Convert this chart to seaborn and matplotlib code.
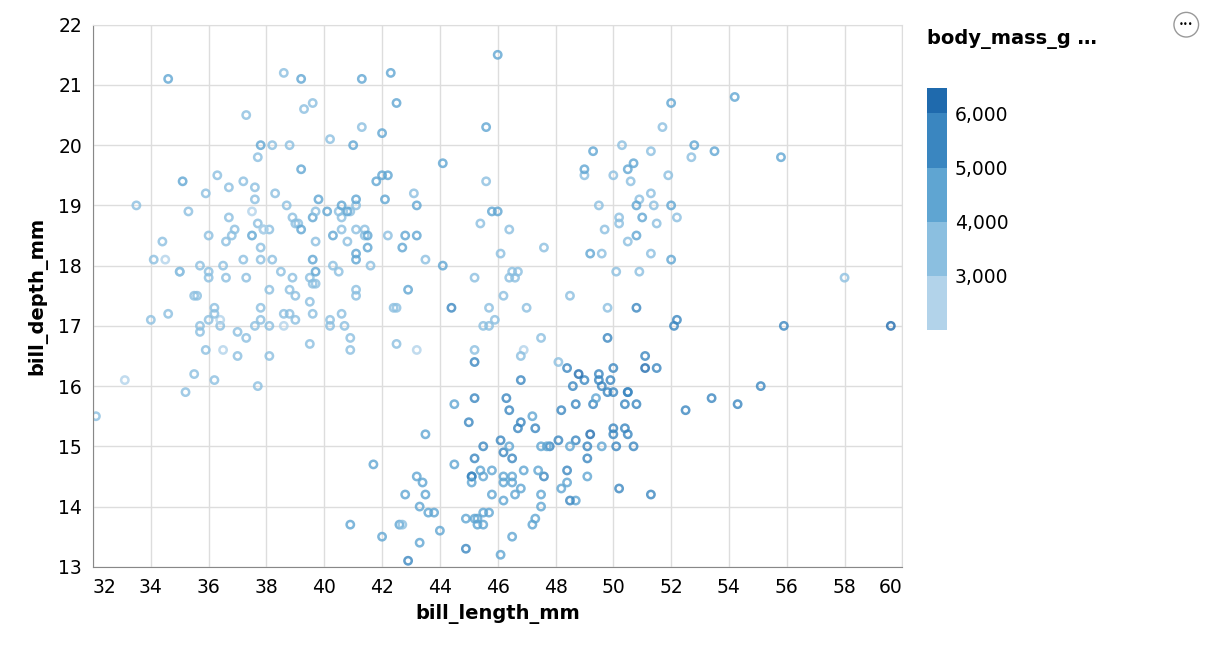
import numpy as np
import pandas as pd
import matplotlib
matplotlib.use("Agg")
import matplotlib.pyplot as plt
from matplotlib.colors import ListedColormap, BoundaryNorm
import seaborn as sns

adelie = [
(39.1,18.7,3750),(39.5,17.4,3800),(40.3,18,3250),(36.7,19.3,3450),(39.3,20.6,3650),(38.9,17.8,3625),
(39.2,19.6,4675),(34.1,18.1,3475),(42,20.2,4250),(37.8,17.1,3300),(37.8,17.3,3700),(41.1,17.6,3200),
(38.6,21.2,3800),(34.6,21.1,4400),(36.6,17.8,3700),(38.7,19,3450),(42.5,20.7,4500),(34.4,18.4,3325),
(46,21.5,4200),(37.8,18.3,3400),(37.7,18.7,3600),(35.9,19.2,3800),(38.2,18.1,3950),(38.8,17.2,3800),
(35.3,18.9,3800),(40.6,18.6,3550),(40.5,17.9,3200),(37.9,18.6,3150),(40.5,18.9,3950),(39.5,16.7,3250),
(37.2,18.1,3900),(39.5,17.8,3300),(40.9,18.9,3900),(36.4,17,3325),(39.2,21.1,4150),(38.8,20,3950),
(42.2,18.5,3550),(37.6,19.3,3300),(39.8,19.1,4650),(36.5,18,3150),(40.8,18.4,3900),(36,18.5,3100),
(44.1,19.7,4400),(37,16.9,3000),(39.6,18.8,4600),(41.1,19,3425),(37.5,18.9,2975),(36,17.9,3450),
(42.3,21.2,4150),(39.6,17.7,3500),(40.1,18.9,4300),(35,17.9,3450),(42,19.5,4050),(34.5,18.1,2900),
(41.4,18.6,3700),(39,17.5,3550),(40.6,18.8,3800),(36.5,16.6,2850),(37.6,19.1,3750),(35.7,16.9,3150),
(41.3,21.1,4400),(37.6,17,3600),(41.1,18.2,4050),(36.4,17.1,2850),(41.6,18,3950),(35.5,16.2,3350),
(41.1,19.1,4100),(35.9,16.6,3050),(41.8,19.4,4450),(33.5,19,3600),(39.7,18.4,3900),(39.6,17.2,3550),
(45.8,18.9,4150),(35.5,17.5,3700),(42.8,18.5,4250),(40.9,16.8,3700),(37.2,19.4,3900),(36.2,16.1,3550),
(42.1,19.1,4000),(34.6,17.2,3200),(42.9,17.6,4700),(36.7,18.8,3800),(35.1,19.4,4200),(37.3,17.8,3350),
(41.3,20.3,3550),(36.3,19.5,3800),(36.9,18.6,3500),(38.3,19.2,3950),(38.9,18.8,3600),(35.7,18,3550),
(41.1,18.1,4300),(34,17.1,3400),(39.6,18.1,4450),(36.2,17.3,3300),(40.8,18.9,4300),(38.1,18.6,3700),
(40.3,18.5,4350),(33.1,16.1,2900),(43.2,18.5,4100),(35,17.9,3725),(41,20,4725),(37.7,16,3075),
(37.8,20,4250),(37.9,18.6,2925),(39.7,18.9,3550),(38.6,17.2,3750),(38.2,20,3900),(38.1,17,3175),
(43.2,19,4775),(38.1,16.5,3825),(45.6,20.3,4600),(39.7,17.7,3200),(42.2,19.5,4275),(39.6,20.7,3900),
(42.7,18.3,4075),(38.6,17,2900),(37.3,20.5,3775),(35.7,17,3350),(41.1,18.6,3325),(36.2,17.2,3150),
(37.7,19.8,3500),(40.2,17,3450),(41.4,18.5,3875),(35.2,15.9,3050),(40.6,19,4000),(38.8,17.6,3275),
(41.5,18.3,4300),(39,17.1,3050),(44.1,18,4000),(38.5,17.9,3325),(43.1,19.2,3500),(36.8,18.5,3500),
(37.5,18.5,4475),(38.1,17.6,3425),(41.1,17.5,3900),(35.6,17.5,3175),(40.2,20.1,3975),(37,16.5,3400),
(39.7,17.9,4250),(40.2,17.1,3400),(40.6,17.2,3475),(32.1,15.5,3050),(40.7,17,3725),(37.3,16.8,3000),
(39,18.7,3650),(39.2,18.6,4250),(36.6,18.4,3475),(36,17.8,3450),(37.8,18.1,3750),(36,17.1,3700),
(41.5,18.5,4000)]
chinstrap = [
(46.5,17.9,3500),(50,19.5,3900),(51.3,19.2,3650),(45.4,18.7,3525),(52.7,19.8,3725),(45.2,17.8,3950),
(46.1,18.2,3250),(51.3,18.2,3750),(46,18.9,4150),(51.3,19.9,3700),(46.6,17.8,3800),(51.7,20.3,3775),
(47,17.3,3700),(52,18.1,4050),(45.9,17.1,3575),(50.5,19.6,4050),(50.3,20,3300),(58,17.8,3700),
(46.4,18.6,3450),(49.2,18.2,4400),(42.4,17.3,3600),(48.5,17.5,3400),(43.2,16.6,2900),(50.6,19.4,3800),
(46.7,17.9,3300),(52,19,4150),(50.5,18.4,3400),(49.5,19,3800),(46.4,17.8,3700),(52.8,20,4550),
(40.9,16.6,3200),(54.2,20.8,4300),(42.5,16.7,3350),(51,18.8,4100),(49.7,18.6,3600),(47.5,16.8,3900),
(47.6,18.3,3850),(52,20.7,4800),(46.9,16.6,2700),(53.5,19.9,4500),(49,19.5,3950),(46.2,17.5,3650),
(50.9,19.1,3550),(45.5,17,3500),(50.9,17.9,3675),(50.8,18.5,4450),(50.1,17.9,3400),(49,19.6,4300),
(51.5,18.7,3250),(49.8,17.3,3675),(48.1,16.4,3325),(51.4,19,3950),(45.7,17.3,3600),(50.7,19.7,4050),
(42.5,17.3,3350),(52.2,18.8,3450),(45.2,16.6,3250),(49.3,19.9,4050),(50.2,18.8,3800),(45.6,19.4,3525),
(51.9,19.5,3950),(46.8,16.5,3650),(45.7,17,3650),(55.8,19.8,4000),(43.5,18.1,3400),(49.6,18.2,3775),
(50.8,19,4100),(50.2,18.7,3775)]
gentoo = [
(46.1,13.2,4500),(50,16.3,5700),(48.7,14.1,4450),(50,15.2,5700),(47.6,14.5,5400),(46.5,13.5,4550),
(45.4,14.6,4800),(46.7,15.3,5200),(43.3,13.4,4400),(46.8,15.4,5150),(40.9,13.7,4650),(49,16.1,5550),
(45.5,13.7,4650),(48.4,14.6,5850),(45.8,14.6,4200),(49.3,15.7,5850),(42,13.5,4150),(49.2,15.2,6300),
(46.2,14.5,4800),(48.7,15.1,5350),(50.2,14.3,5700),(45.1,14.5,5000),(46.5,14.5,4400),(46.3,15.8,5050),
(42.9,13.1,5000),(46.1,15.1,5100),(47.8,15,5650),(48.2,14.3,4600),(50,15.3,5550),(47.3,15.3,5250),
(42.8,14.2,4700),(45.1,14.5,5050),(59.6,17,6050),(49.1,14.8,5150),(48.4,16.3,5400),(42.6,13.7,4950),
(44.4,17.3,5250),(44,13.6,4350),(48.7,15.7,5350),(42.7,13.7,3950),(49.6,16,5700),(45.3,13.7,4300),
(49.6,15,4750),(50.5,15.9,5550),(43.6,13.9,4900),(45.5,13.9,4200),(50.5,15.9,5400),(44.9,13.3,5100),
(45.2,15.8,5300),(46.6,14.2,4850),(48.5,14.1,5300),(45.1,14.4,4400),(50.1,15,5000),(46.5,14.4,4900),
(45,15.4,5050),(43.8,13.9,4300),(45.5,15,5000),(43.2,14.5,4450),(50.4,15.3,5550),(45.3,13.8,4200),
(46.2,14.9,5300),(45.7,13.9,4400),(54.3,15.7,5650),(45.8,14.2,4700),(49.8,16.8,5700),(46.2,14.4,4650),
(49.5,16.2,5800),(43.5,14.2,4700),(50.7,15,5550),(47.7,15,4750),(46.4,15.6,5000),(48.2,15.6,5100),
(46.5,14.8,5200),(46.4,15,4700),(48.6,16,5800),(47.5,14.2,4600),(51.1,16.3,6000),(45.2,13.8,4750),
(45.2,16.4,5950),(49.1,14.5,4625),(52.5,15.6,5450),(47.4,14.6,4725),(50,15.9,5350),(44.9,13.8,4750),
(50.8,17.3,5600),(43.4,14.4,4600),(51.3,14.2,5300),(47.5,14,4875),(52.1,17,5550),(47.5,15,4950),
(52.2,17.1,5400),(45.5,14.5,4750),(49.5,16.1,5650),(44.5,14.7,4850),(50.8,15.7,5200),(49.4,15.8,4925),
(46.9,14.6,4875),(48.4,14.4,4625),(51.1,16.5,5250),(48.5,15,4850),(55.9,17,5600),(47.2,15.5,4975),
(49.1,15,5500),(47.3,13.8,4725),(46.8,16.1,5500),(41.7,14.7,4700),(53.4,15.8,5500),(43.3,14,4575),
(48.1,15.1,5500),(50.5,15.2,5000),(49.8,15.9,5950),(43.5,15.2,4650),(51.5,16.3,5500),(46.2,14.1,4375),
(55.1,16,5850),(44.5,15.7,4875),(48.8,16.2,6000),(47.2,13.7,4925),(46.8,14.3,4850),(50.4,15.7,5750),
(45.2,14.8,5200),(49.9,16.1,5400)]

rows = adelie + chinstrap + gentoo
df = pd.DataFrame(rows, columns=["bill_length_mm", "bill_depth_mm", "body_mass_g"])

x_ticks = list(range(32, 61, 2))
y_ticks = list(range(13, 23))
mass_bounds = [2000, 3000, 4000, 5000, 6000, 6460]
mass_ticks = [3000, 4000, 5000, 6000]
mass_tick_labels = ["3,000", "4,000", "5,000", "6,000"]
band_colors = ["#b2d3ea", "#8bbfe0", "#5fa5d2", "#3a86c0", "#1f6aad"]

cmap = ListedColormap(band_colors)
norm = BoundaryNorm(mass_bounds, cmap.N)

sns.set_style("white")
plt.rcParams["font.family"] = ["DejaVu Sans"]
plt.rcParams["text.color"] = "black"
plt.rcParams["axes.labelcolor"] = "black"
fig = plt.figure(figsize=(12.08, 6.5), dpi=100)
ax = fig.add_axes([0.077, 0.128, 0.67, 0.834])

cols = [cmap(norm(v)) for v in df["body_mass_g"]]
sns.scatterplot(data=df, x="bill_length_mm", y="bill_depth_mm", ax=ax, s=28,
                facecolors="none", edgecolor=cols, linewidth=1.8, alpha=0.8, legend=False)
ax.set_xlim(32, 60)
ax.set_ylim(13, 22)
ax.set_xticks(x_ticks)
ax.set_yticks(y_ticks)
ax.grid(True, color="#dddddd", linewidth=1)
ax.set_axisbelow(True)
for s in ["top", "right"]:
    ax.spines[s].set_color("#dddddd")
for s in ["left", "bottom"]:
    ax.spines[s].set_color("#888888")
ax.tick_params(axis="both", length=5, color="#888888", labelsize=13.5, direction="out",
               labelcolor="black", pad=3)
labels = ax.get_xticklabels()
labels[0].set_horizontalalignment("left")
labels[-1].set_horizontalalignment("right")
ax.set_xlabel("bill_length_mm", fontsize=14, fontweight="bold", labelpad=5)
ax.set_ylabel("bill_depth_mm", fontsize=14, fontweight="bold", labelpad=8)

cax = fig.add_axes([0.767, 0.492, 0.0166, 0.372])
cb = matplotlib.colorbar.ColorbarBase(cax, cmap=cmap, norm=norm, boundaries=mass_bounds,
                                      spacing="proportional", ticks=mass_ticks)
cb.outline.set_visible(False)
cax.minorticks_off()
cax.set_yticks(mass_ticks)
cax.set_yticklabels(mass_tick_labels)
cax.tick_params(length=0, labelsize=13.5, pad=6, labelcolor="black")
fig.text(0.767, 0.94, "body_mass_g \u2026", fontsize=14, fontweight="bold", va="center")
fig.text(0.982, 0.962, "\u2022\u2022\u2022", fontsize=6, ha="center", va="center",
         bbox=dict(boxstyle="circle,pad=0.6", fc="white", ec="#999999"))

fig.savefig("out.png", dpi=100)
